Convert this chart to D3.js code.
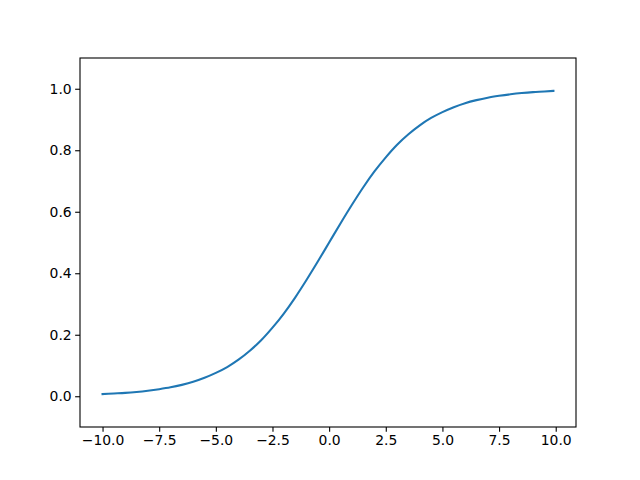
<!DOCTYPE html>
<html><head><meta charset="utf-8">
<script src="https://cdn.jsdelivr.net/npm/d3@7"></script>
<style>body{margin:0;background:#fff}svg{display:block}</style>
</head><body>
<script>
const xValues = [-10,-9.5,-9,-8.5,-8,-7.5,-7,-6.5,-6,-5.5,-5,-4.5,-4,-3.5,-3,-2.5,-2,-1.5,-1,-0.5,0,0.5,1,1.5,2,2.5,3,3.5,4,4.5,5,5.5,6,6.5,7,7.5,8,8.5,9,9.5,9.9];
const yValues = [0.007,0.009,0.011,0.014,0.018,0.023,0.029,0.037,0.047,0.060,0.076,0.095,0.119,0.148,0.182,0.223,0.269,0.321,0.378,0.438,0.5,0.562,0.622,0.679,0.731,0.777,0.818,0.852,0.881,0.905,0.924,0.940,0.953,0.963,0.971,0.977,0.982,0.986,0.989,0.991,0.993];
const xTicks = [-10,-7.5,-5,-2.5,0,2.5,5,7.5,10];
const yTicks = [0,0.2,0.4,0.6,0.8,1.0];

const W=640,H=480, L=80, R=576, T=58, B=427;
const svg=d3.select("body").append("svg").attr("width",W).attr("height",H);
const x=d3.scaleLinear().domain([-10.995,10.895]).range([L,R]);
const y=d3.scaleLinear().domain([-0.1,1.1]).range([B,T]);
const fmt=v=>d3.format(".1f")(v).replace("-","\u2212");
const font="DejaVu Sans, sans-serif";

const data=xValues.map((v,i)=>[v,yValues[i]]);
svg.append("path").datum(data)
  .attr("fill","none").attr("stroke","#1f77b4").attr("stroke-width",2.08)
  .attr("stroke-linecap","square")
  .attr("d",d3.line().x(d=>x(d[0])).y(d=>y(d[1])).curve(d3.curveMonotoneX));

const xa=svg.append("g").attr("transform",`translate(0,${B})`)
  .call(d3.axisBottom(x).tickValues(xTicks).tickFormat(fmt).tickSize(4.86).tickPadding(3.5).tickSizeOuter(0));
const ya=svg.append("g").attr("transform",`translate(${L},0)`)
  .call(d3.axisLeft(y).tickValues(yTicks).tickFormat(fmt).tickSize(4.86).tickPadding(3.5).tickSizeOuter(0));
[xa,ya].forEach(a=>{
  a.select(".domain").remove();
  a.selectAll("line").attr("stroke","#000").attr("stroke-width",1.1);
  a.selectAll("text").attr("font-family",font).attr("font-size",13.9).attr("fill","#000");
});
svg.append("rect").attr("x",L).attr("y",T).attr("width",R-L).attr("height",B-T)
  .attr("fill","none").attr("stroke","#000").attr("stroke-width",1.1);
</script>
</body></html>
